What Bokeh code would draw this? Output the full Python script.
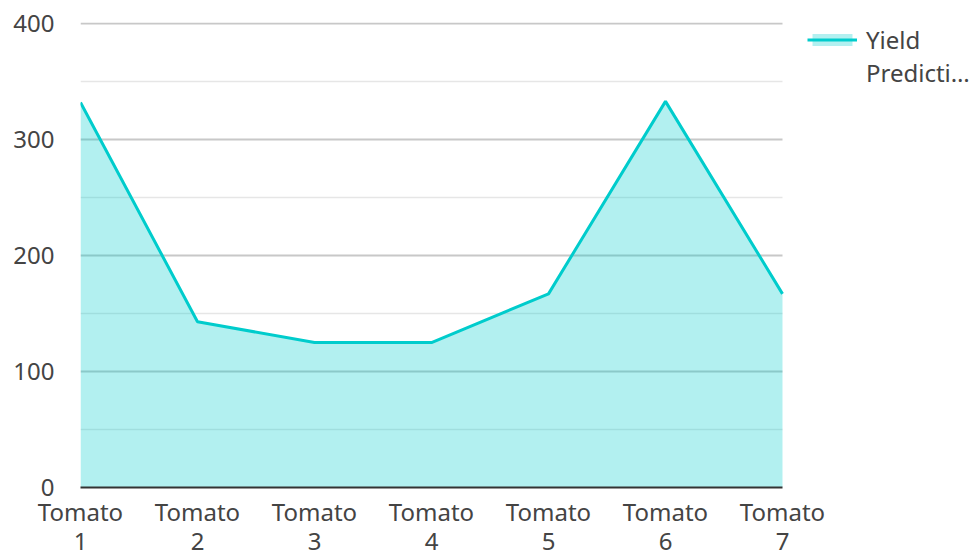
from bokeh.plotting import figure
from bokeh.models import (ColumnDataSource, FixedTicker, Range1d, Legend, LegendItem)
from bokeh.embed import file_html
from bokeh.resources import INLINE

categories = ["Tomato 1", "Tomato 2", "Tomato 3", "Tomato 4", "Tomato 5", "Tomato 6", "Tomato 7"]
yield_prediction = [332, 143, 125, 125, 167, 333, 167]
y_ticks = [0, 100, 200, 300, 400]
minor_y_ticks = [50, 150, 250, 350]
legend_lines = ["Yield", "Predicti…"]

W, H = 974, 560
LEFT, PLOT_RIGHT = 80, 782   # pixel extent of the data area
n = len(categories)
xs = list(range(n))
x_end = (n - 1) * (W - LEFT) / (PLOT_RIGHT - LEFT)  # frame spans to the right edge; data ends at n-1
src = ColumnDataSource(dict(x=xs, y=yield_prediction, zero=[0] * n))

p = figure(width=W, height=H, output_backend="svg", toolbar_location=None,
           x_range=Range1d(0, x_end), y_range=Range1d(0, 401),
           min_border_left=LEFT, min_border_right=0, min_border_top=22, min_border_bottom=60)
p.outline_line_color = None
p.background_fill_color = "white"

area = p.varea(x="x", y1="zero", y2="y", source=src, fill_color="#00CCCC", fill_alpha=0.3)
line = p.line(x="x", y="y", source=src, line_color="#00CCCC", line_width=3)

FONT = "Noto Sans"
TXT = "#444444"
FS = "24px"

p.xaxis.ticker = FixedTicker(ticks=xs)
p.xaxis.bounds = (0, n - 1)
p.xaxis.major_label_overrides = {i: c.replace(" ", "\n") for i, c in zip(xs, categories)}
p.xaxis.axis_line_color = "#333333"
p.xaxis.axis_line_width = 2
p.xaxis.major_tick_line_color = None
p.xaxis.minor_tick_line_color = None
p.xaxis.major_label_text_font = FONT
p.xaxis.major_label_text_font_size = FS
p.xaxis.major_label_text_color = TXT
p.xaxis.major_label_text_line_height = 0.9
p.xaxis.major_label_standoff = 1

p.yaxis.ticker = FixedTicker(ticks=y_ticks, minor_ticks=minor_y_ticks)
p.yaxis.axis_line_color = None
p.yaxis.major_tick_line_color = None
p.yaxis.minor_tick_line_color = None
p.yaxis.major_label_text_font = FONT
p.yaxis.major_label_text_font_size = FS
p.yaxis.major_label_text_color = TXT
p.yaxis.major_label_standoff = 20

p.xgrid.grid_line_color = None
p.ygrid.cross_bounds = (0, n - 1)
p.ygrid.grid_line_color = "#c8c8c8"
p.ygrid.grid_line_width = 2
p.ygrid.minor_grid_line_color = "#e6e6e6"
p.ygrid.minor_grid_line_width = 1.5

items = [LegendItem(label=legend_lines[0], renderers=[area, line]),
         LegendItem(label=legend_lines[1], renderers=[])]
legend = Legend(items=items, location=(727, 398), border_line_color=None,
                background_fill_alpha=0, glyph_width=50, glyph_height=15,
                label_text_font=FONT, label_text_font_size=FS, label_text_color=TXT,
                margin=0, padding=0, spacing=-8, label_standoff=9)
p.add_layout(legend)

open("out.html", "w").write(file_html(p, INLINE))
